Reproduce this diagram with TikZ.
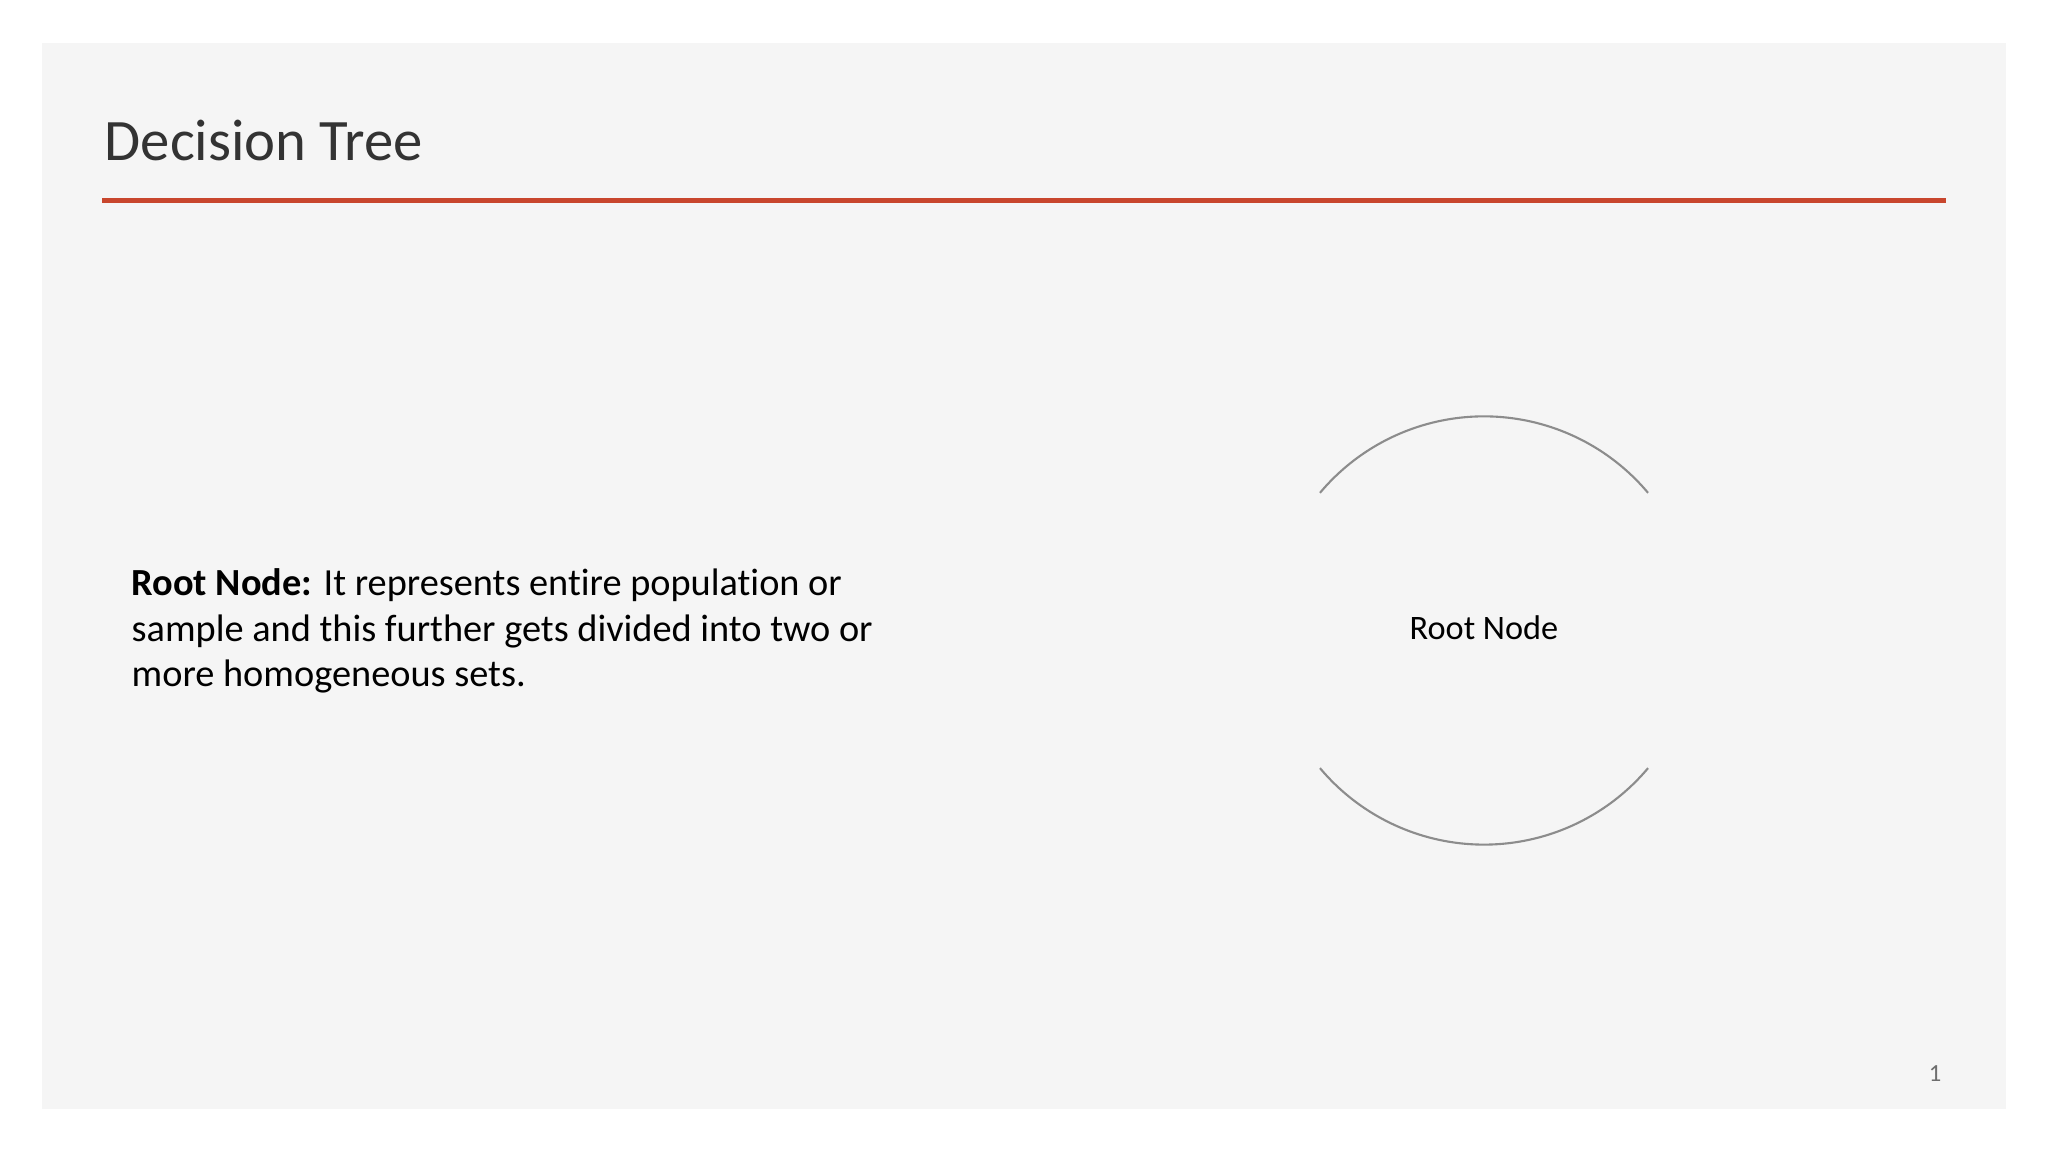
\documentclass[tikz,border=0pt]{standalone}
\usepackage{fontspec}
\setmainfont{Carlito}[Ligatures=NoCommon]
\usepackage{tikz}
\usetikzlibrary{calc,positioning}

\definecolor{slidebg}{RGB}{245,245,245}
\definecolor{titlegray}{RGB}{51,51,51}
\definecolor{rulered}{RGB}{200,70,45}
\definecolor{arcgray}{RGB}{140,140,140}
\definecolor{numgray}{RGB}{110,110,110}

\tikzset{
	titletext/.style={anchor=base west,inner sep=0pt,text=titlegray,font=\fontsize{16.7}{20}\selectfont},
	bodytext/.style={anchor=base west,inner sep=0pt,align=left,font=\fontsize{10.9}{13}\selectfont},
	roottext/.style={anchor=base,inner sep=0pt,font=\fontsize{9.75}{11}\selectfont},
	numtext/.style={anchor=base,inner sep=0pt,text=numgray,font=\fontsize{7}{8}\selectfont},
	arcline/.style={draw=arcgray,line width=0.6pt}
}

\begin{document}
\begin{tikzpicture}[x=0.01cm,y=0.01cm]
	\useasboundingbox (0,0) rectangle (2048,1152);
	\fill[white] (0,0) rectangle (2048,1152);
	\fill[slidebg] (42,43) rectangle (2006,1109);

	% heading
	\node(title) [titletext] at (104,991) {Decision Tree};
	\coordinate(rulea) at (102,951.5);
	\coordinate(ruleb) at (1946,951.5);
	\draw[rulered,line width=0.045cm] (rulea) -- (ruleb);

	% text on the left (base = last line)
	\node(desc) [bodytext] at (131,465) {\textbf{Root Node:} It represents entire population or\\
	sample and this further gets divided into two or\\
	more homogeneous sets.};

	% node on the right
	\coordinate(c) at (1484,521.5);
	\node(root) [roottext] at (1484,512) {Root Node};
	\draw[arcline] ($(c)+(40:2.14cm)$) arc[start angle=40,end angle=140,radius=2.14cm];
	\draw[arcline] ($(c)+(220:2.14cm)$) arc[start angle=220,end angle=320,radius=2.14cm];

	\node(pagenum) [numtext] at (1935,70) {1};
\end{tikzpicture}
\end{document}
